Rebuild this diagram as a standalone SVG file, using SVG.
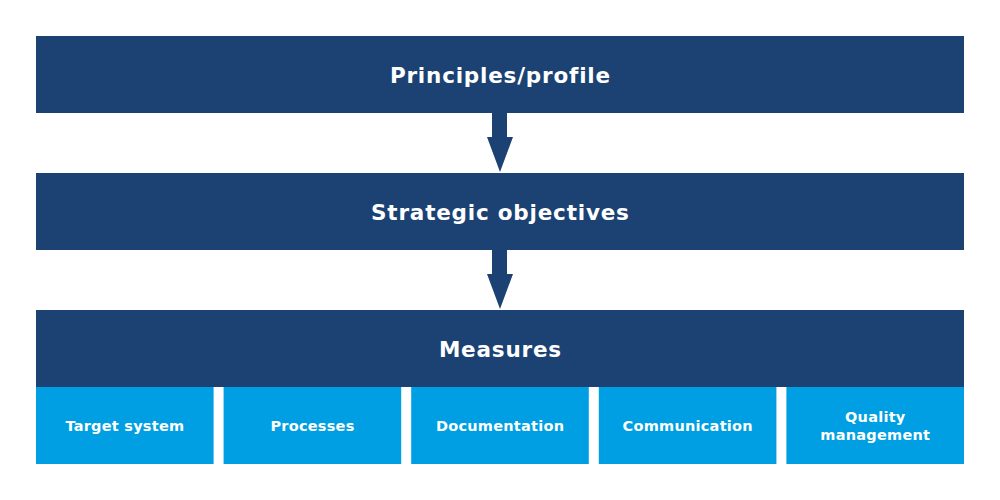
<svg xmlns="http://www.w3.org/2000/svg" width="1000" height="500" viewBox="0 0 1000 500">
<style>
.bar{fill:#1b4273}
.box{fill:#009fe3}
.arr{fill:#1b4273}
.t{font-family:"DejaVu Sans",Verdana,sans-serif;font-weight:bold;fill:#ffffff;text-anchor:middle;dominant-baseline:central}
.big{font-size:21.5px;letter-spacing:0.8px}
.small{font-size:14.5px;letter-spacing:0.25px}
</style>
<rect width="1000" height="500" fill="#ffffff"/>
<g id="connectors">
<polygon class="arr" points="492,113 507,113 507,137 513,137 500,172 487,137 492,137"/>
<polygon class="arr" points="492,250 507,250 507,274 513,274 500,309 487,274 492,274"/>
</g>
<g id="principles">
<rect class="bar" x="36" y="36" width="928" height="77"/>
<text class="t big" x="500.4" y="75">Principles/profile</text>
</g>
<g id="objectives">
<rect class="bar" x="36" y="173" width="928" height="77"/>
<text class="t big" x="500.4" y="212">Strategic objectives</text>
</g>
<g id="measures">
<rect class="bar" x="36" y="310" width="928" height="77"/>
<text class="t big" x="500.4" y="349">Measures</text>
</g>
<g id="target-system">
<rect class="box" x="36" y="387" width="177.6" height="77"/>
<text class="t small" x="124.9" y="426">Target system</text>
</g>
<g id="processes">
<rect class="box" x="223.6" y="387" width="177.6" height="77"/>
<text class="t small" x="312.5" y="426">Processes</text>
</g>
<g id="documentation">
<rect class="box" x="411.2" y="387" width="177.6" height="77"/>
<text class="t small" x="500.1" y="426">Documentation</text>
</g>
<g id="communication">
<rect class="box" x="598.8" y="387" width="177.6" height="77"/>
<text class="t small" x="687.7" y="426">Communication</text>
</g>
<g id="quality-management">
<rect class="box" x="786.4" y="387" width="177.6" height="77"/>
<text class="t small" x="875.3" y="417">Quality</text>
<text class="t small" x="875.3" y="435">management</text>
</g>
</svg>
